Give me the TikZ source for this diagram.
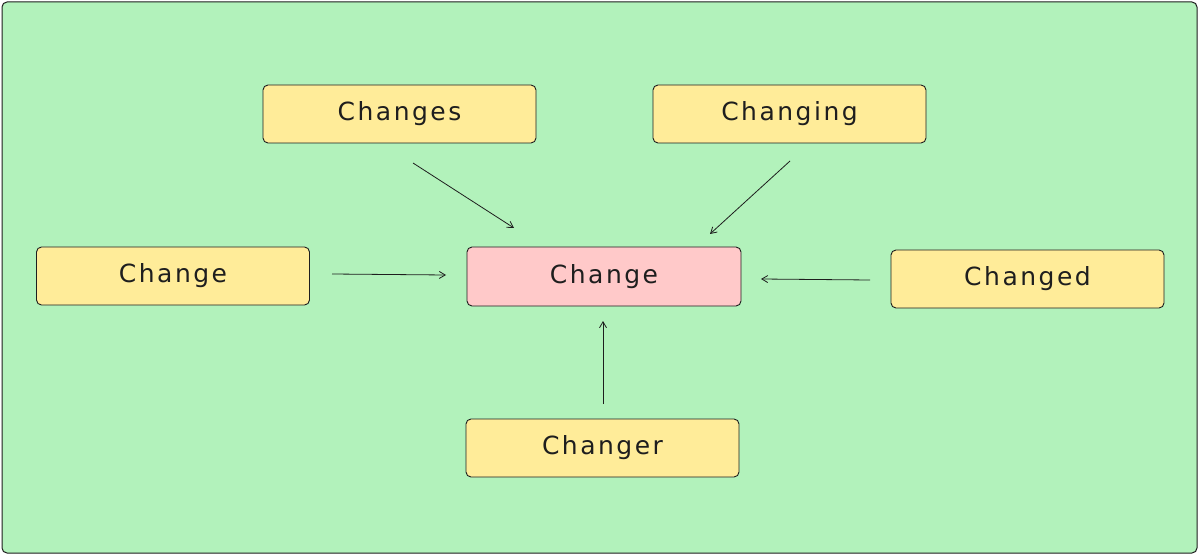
\documentclass[tikz,border=0pt]{standalone}
\usepackage{fontspec}
\newfontfamily\wordfont[LetterSpace=10]{DejaVu Sans}
\usetikzlibrary{arrows.meta}
\definecolor{bggreen}{HTML}{B2F2BB}
\definecolor{boxyellow}{HTML}{FFEC99}
\definecolor{boxpink}{HTML}{FFC9C9}
\definecolor{edge}{HTML}{1E1E1E}
\begin{document}
\begin{tikzpicture}[x=1pt,y=-1pt,
  wordbox/.style={draw=edge, line width=0.9pt, rounded corners=5pt, fill=boxyellow,
    minimum width=273pt, minimum height=58pt, inner sep=0pt,
    font=\wordfont\fontsize{25}{28}\selectfont, text=edge},
  centerbox/.style={wordbox, fill=boxpink},
  link/.style={draw=edge, line width=0.8pt, -{Straight Barb[length=6pt,width=7pt]}}]
\useasboundingbox (0,0) rectangle (1200,556);
\draw[draw=edge, line width=1pt, fill=bggreen, rounded corners=5pt] (2,2) rectangle (1197,553);
\node[wordbox] (changes) at (399.5,114) {Changes};
\node[wordbox] (changing) at (789.5,114) {Changing};
\node[wordbox] (changeL) at (173,276) {Change};
\node[centerbox, minimum width=274pt, minimum height=59pt] (center) at (604,276.5) {Change};
\node[wordbox] (changed) at (1027.5,279) {Changed};
\node[wordbox] (changer) at (602.5,448) {Changer};
\coordinate (a1) at (413,163); \coordinate (b1) at (514,228);
\coordinate (a2) at (790,161); \coordinate (b2) at (710,234);
\coordinate (a3) at (332,274); \coordinate (b3) at (446,275);
\coordinate (a4) at (870,280); \coordinate (b4) at (761,279);
\coordinate (a5) at (603,404); \coordinate (b5) at (603,321);
\draw[link] (a1) -- (b1);
\draw[link] (a2) -- (b2);
\draw[link] (a3) -- (b3);
\draw[link] (a4) -- (b4);
\draw[link] (a5) -- (b5);
\end{tikzpicture}
\end{document}
